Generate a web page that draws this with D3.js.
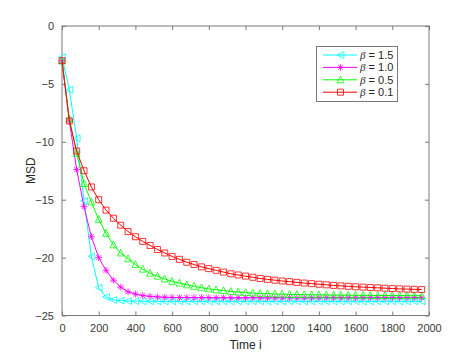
<!DOCTYPE html>
<html><head><meta charset="utf-8">
<script src="https://cdn.jsdelivr.net/npm/d3@7"></script>
<style>body{margin:0;background:#fff;} text{font-family:"Liberation Sans",Arial,sans-serif;}</style>
</head><body>
<svg id="c" width="474" height="355"></svg>
<script>
const times = d3.range(0, 2000, 40);
const beta15 = [-2.7,-5.5,-9.7,-15.1,-19.9,-22.6,-23.4,-23.65,-23.72,-23.75,-23.76,-23.77,-23.77,-23.78,-23.78,-23.77,-23.78,-23.78,-23.77,-23.78,-23.78,-23.78,-23.77,-23.78,-23.78,-23.78,-23.77,-23.78,-23.78,-23.78,-23.78,-23.77,-23.78,-23.78,-23.78,-23.77,-23.78,-23.78,-23.78,-23.78,-23.77,-23.78,-23.78,-23.78,-23.78,-23.77,-23.78,-23.78,-23.78,-23.78];
const beta10 = [-3.0,-8.2,-12.4,-15.6,-18.2,-20.0,-21.1,-21.95,-22.55,-22.95,-23.15,-23.28,-23.35,-23.4,-23.42,-23.44,-23.45,-23.45,-23.46,-23.46,-23.46,-23.47,-23.46,-23.47,-23.47,-23.47,-23.46,-23.47,-23.47,-23.47,-23.47,-23.46,-23.47,-23.47,-23.47,-23.47,-23.46,-23.47,-23.47,-23.47,-23.47,-23.47,-23.46,-23.47,-23.47,-23.47,-23.47,-23.47,-23.47,-23.47];
const beta05 = [-3.0,-8.0,-11.0,-13.6,-15.2,-16.7,-17.9,-18.9,-19.6,-20.1,-20.6,-21.0,-21.35,-21.6,-21.85,-22.05,-22.2,-22.35,-22.48,-22.6,-22.7,-22.78,-22.85,-22.92,-22.97,-23.02,-23.06,-23.09,-23.12,-23.14,-23.16,-23.18,-23.19,-23.2,-23.21,-23.22,-23.23,-23.24,-23.24,-23.25,-23.25,-23.26,-23.26,-23.27,-23.27,-23.28,-23.28,-23.28,-23.29,-23.29];
const beta01 = [-3.0,-8.2,-10.8,-12.5,-13.9,-15.0,-15.9,-16.6,-17.2,-17.75,-18.2,-18.6,-18.95,-19.3,-19.6,-19.9,-20.15,-20.4,-20.6,-20.8,-20.95,-21.1,-21.25,-21.4,-21.5,-21.6,-21.7,-21.8,-21.88,-21.95,-22.02,-22.08,-22.14,-22.2,-22.25,-22.3,-22.35,-22.4,-22.44,-22.48,-22.52,-22.55,-22.58,-22.61,-22.64,-22.67,-22.7,-22.72,-22.74,-22.76];
const seriesNames = ["1.5","1.0","0.5","0.1"];
const seriesColors = ["#00ffff","#ff00ff","#00ff00","#ff0000"];
const seriesMarkers = ["ltri","star","utri","square"];
const seriesValues = [beta15, beta10, beta05, beta01];
const xTicks = d3.range(0, 2001, 200);
const yTicks = [0,-5,-10,-15,-20,-25];

const svg = d3.select("#c");
const L=62, R=429, T=26, B=315.5;
const x = d3.scaleLinear().domain([0,2000]).range([L,R]);
const y = d3.scaleLinear().domain([-25,0]).range([B,T]);
const axisCol = "#7a7a7a", textCol = "#3a3a3a";

function markerPath(type){
  const r=3.4;
  if(type==="ltri") return `M${-r},0L${r},${-r}L${r},${r}Z`;
  if(type==="utri") return `M0,${-r-0.4}L${r},${r-0.4}L${-r},${r-0.4}Z`;
  if(type==="square") return `M${-3},${-3}h6v6h-6Z`;
  const d=r*0.72;
  return `M${-r},0H${r}M0,${-r}V${r}M${-d},${-d}L${d},${d}M${-d},${d}L${d},${-d}`;
}

// axes box
const g = svg.append("g");
const xb = d3.axisBottom(x).tickValues(xTicks).tickSize(-4).tickPadding(9).tickFormat(d3.format("d"));
const xt = d3.axisTop(x).tickValues(xTicks).tickSize(-4).tickFormat("");
const yl = d3.axisLeft(y).tickValues(yTicks).tickSize(-4).tickPadding(8);
const yr = d3.axisRight(y).tickValues(yTicks).tickSize(-4).tickFormat("");
function style(sel){
  sel.selectAll("path,line").attr("stroke",axisCol).attr("stroke-width",1);
  sel.selectAll("text").attr("fill",textCol).attr("font-size",11).attr("font-family","Liberation Sans, Arial, sans-serif");
}
g.append("g").attr("transform",`translate(0,${B})`).call(xb).call(s=>s.select(".domain").remove()).call(style);
g.append("g").attr("transform",`translate(0,${T})`).call(xt).call(s=>s.select(".domain").remove()).call(style);
g.append("g").attr("transform",`translate(${L},0)`).call(yl).call(s=>s.select(".domain").remove()).call(style);
g.append("g").attr("transform",`translate(${R},0)`).call(yr).call(s=>s.select(".domain").remove()).call(style);
svg.append("rect").attr("x",L).attr("y",T).attr("width",R-L).attr("height",B-T)
  .attr("fill","none").attr("stroke",axisCol).attr("stroke-width",1);

// series
const line = d3.line().x((d,i)=>x(times[i])).y(d=>y(d));
seriesValues.forEach((vals,k)=>{
  const sg = svg.append("g");
  sg.append("path").datum(vals).attr("d",line).attr("fill","none")
    .attr("stroke",seriesColors[k]).attr("stroke-width",1);
  sg.selectAll("path.m").data(vals).enter().append("path").attr("class","m")
    .attr("d",markerPath(seriesMarkers[k]))
    .attr("transform",(d,i)=>`translate(${x(times[i])},${y(d)})`)
    .attr("fill","none").attr("stroke",seriesColors[k]).attr("stroke-width",0.8);
});

// labels
svg.append("text").attr("x",(L+R)/2).attr("y",349).attr("text-anchor","middle")
  .attr("font-size",12).attr("fill","#262626").text("Time i");
svg.append("text").attr("transform",`translate(35,${(T+B)/2}) rotate(-90)`).attr("text-anchor","middle")
  .attr("font-size",12).attr("fill","#262626").text("MSD");

// legend
const lg = svg.append("g");
lg.append("rect").attr("x",316.5).attr("y",46.5).attr("width",81).attr("height",55)
  .attr("fill","#fff").attr("stroke",axisCol).attr("stroke-width",1);
seriesNames.forEach((n,k)=>{
  const yy = 55 + k*12.4;
  lg.append("line").attr("x1",323).attr("x2",357).attr("y1",yy).attr("y2",yy)
    .attr("stroke",seriesColors[k]).attr("stroke-width",1);
  lg.append("path").attr("d",markerPath(seriesMarkers[k])).attr("transform",`translate(340.5,${yy})`)
    .attr("fill","none").attr("stroke",seriesColors[k]).attr("stroke-width",0.8);
  const t = lg.append("text").attr("x",360).attr("y",yy+4).attr("font-size",11).attr("fill","#262626");
  t.append("tspan").attr("font-family","Liberation Serif, serif").attr("font-style","italic").text("β");
  t.append("tspan").text(" = " + n);
});
</script>
</body></html>
